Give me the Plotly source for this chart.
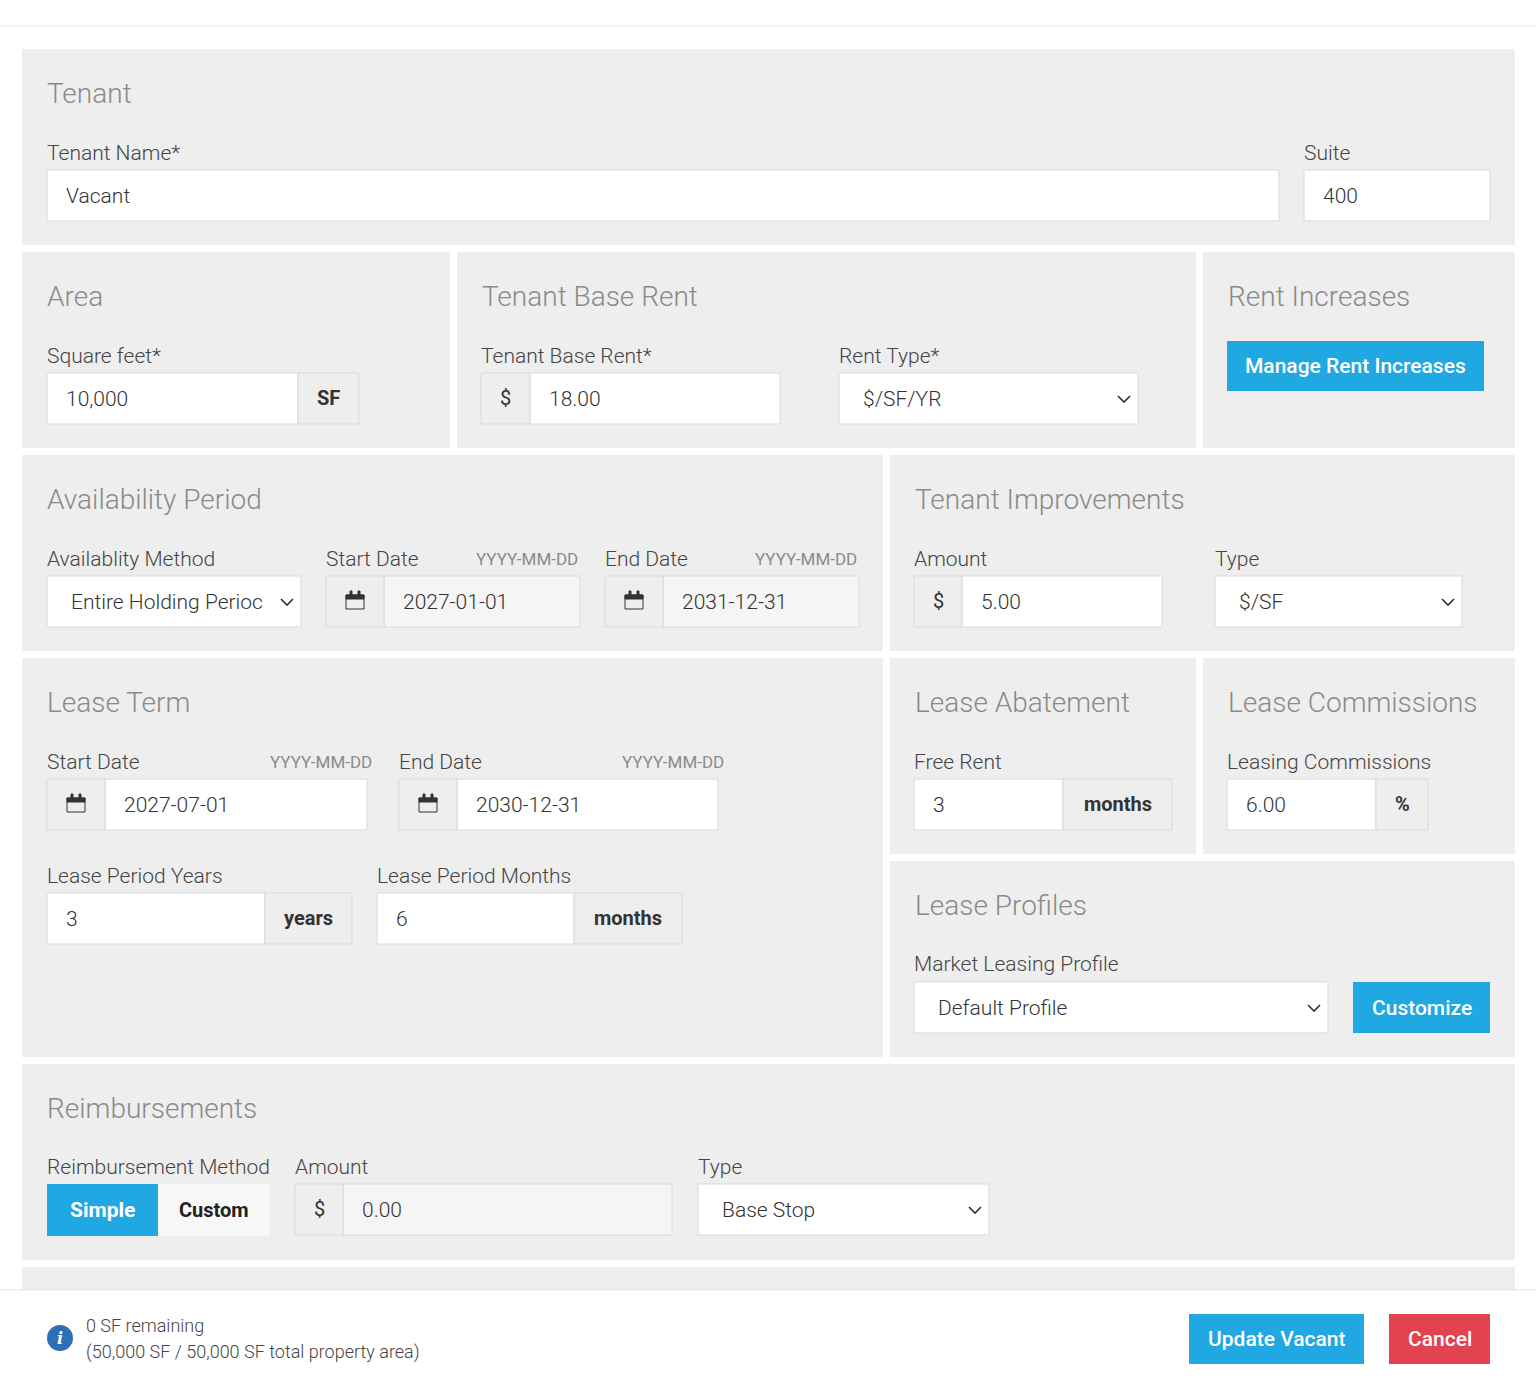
import plotly.graph_objects as go

W, H = 1536, 1384
PANEL = "#eeeeee"
BLUE = "#1fa8e1"
RED = "#e3434f"
FONT = "Roboto"

# panels: (x0, y0, x1, y1, title)
panels = [
    (22, 49, 1515, 245, "Tenant"),
    (22, 252, 450, 448, "Area"),
    (457, 252, 1196, 448, "Tenant Base Rent"),
    (1203, 252, 1515, 448, "Rent Increases"),
    (22, 455, 883, 651, "Availability Period"),
    (890, 455, 1515, 651, "Tenant Improvements"),
    (22, 658, 883, 1057, "Lease Term"),
    (890, 658, 1196, 854, "Lease Abatement"),
    (1203, 658, 1515, 854, "Lease Commissions"),
    (890, 861, 1515, 1057, "Lease Profiles"),
    (22, 1064, 1515, 1260, "Reimbursements"),
    (22, 1267, 1515, 1300, ""),
]

# field labels: (x, y, text)
labels = [
    (47, 153, "Tenant Name*"), (1304, 153, "Suite"),
    (47, 356, "Square feet*"), (481, 356, "Tenant Base Rent*"), (839, 356, "Rent Type*"),
    (47, 559, "Availablity Method"), (326, 559, "Start Date"), (605, 559, "End Date"),
    (914, 559, "Amount"), (1215, 559, "Type"),
    (47, 762, "Start Date"), (399, 762, "End Date"),
    (914, 762, "Free Rent"), (1227, 762, "Leasing Commissions"),
    (47, 876, "Lease Period Years"), (377, 876, "Lease Period Months"),
    (914, 964, "Market Leasing Profile"),
    (47, 1167, "Reimbursement Method"), (295, 1167, "Amount"), (698, 1167, "Type"),
]

# format hints: (right x, y)
hints = [(580, 559), (859, 559), (374, 762), (726, 762)]

# inputs: (x0, y0, x1, text, background)
inputs = [
    (47, 170, 1279, "Vacant", "white"), (1304, 170, 1490, "400", "white"),
    (47, 373, 298, "10,000", "white"), (530, 373, 780, "18.00", "white"),
    (384, 576, 580, "2027-01-01", "#f5f5f5"), (663, 576, 859, "2031-12-31", "#f5f5f5"),
    (962, 576, 1162, "5.00", "white"),
    (105, 779, 367, "2027-07-01", "white"), (457, 779, 718, "2030-12-31", "white"),
    (914, 779, 1063, "3", "white"), (1227, 779, 1376, "6.00", "white"),
    (47, 893, 265, "3", "white"), (377, 893, 574, "6", "white"),
    (343, 1184, 672, "0.00", "#f5f5f5"),
]

# addons: (x0, y0, x1, text) ; "cal" = calendar icon
addons = [
    (298, 373, 359, "SF"), (481, 373, 530, "$"),
    (326, 576, 384, "cal"), (605, 576, 663, "cal"), (914, 576, 962, "$"),
    (47, 779, 105, "cal"), (399, 779, 457, "cal"),
    (1063, 779, 1172, "months"), (1376, 779, 1428, "%"),
    (265, 893, 352, "years"), (574, 893, 682, "months"),
    (295, 1184, 343, "$"),
]

# selects: (x0, y0, x1, text)
selects = [
    (839, 373, 1138, "$/SF/YR"), (47, 576, 301, "Entire Holding Perioc"),
    (1215, 576, 1462, "$/SF"), (914, 982, 1328, "Default Profile"),
    (698, 1184, 989, "Base Stop"),
]

# buttons: (x0, y0, x1, y1, text, colour)
buttons = [
    (1227, 341, 1484, 391, "Manage Rent Increases", BLUE),
    (1353, 982, 1490, 1033, "Customize", BLUE),
    (47, 1184, 158, 1236, "<b>Simple</b>", BLUE),
    (1189, 1314, 1364, 1364, "Update Vacant", BLUE),
    (1389, 1314, 1490, 1364, "Cancel", RED),
]

footer_lines = ["0 SF remaining", "(50,000 SF / 50,000 SF total property area)"]

fig = go.Figure()
shapes, ann = [], []


def rect(x0, y0, x1, y1, fill, line=None):
    shapes.append(dict(type="rect", x0=x0, y0=y0, x1=x1, y1=y1, fillcolor=fill,
                       line=dict(color=line or fill, width=1 if line else 0), layer="above"))


def text(x, y, t, size=20, color="#333", anchor="left", family=FONT, weight=400):
    # annotations get a 1px border pad; nudge left-anchored text back
    if anchor == "left":
        x -= 2
    ann.append(dict(x=x, y=y, text=t, showarrow=False, xanchor=anchor, yanchor="middle",
                    font=dict(size=size, color=color, family=family, weight=weight)))


shapes.append(dict(type="line", x0=0, x1=W, y0=26, y1=26, line=dict(color="#e6e6e6", width=1)))
for x0, y0, x1, y1, t in panels:
    rect(x0, y0, x1, y1, PANEL)
    if t:
        text(x0 + 25, y0 + 44, t, size=28, color="#8a8a8a", weight=300)
for x, y, t in labels:
    text(x, y, t, size=21, color="#444", weight=300)
for x, y in hints:
    text(x, y, "YYYY-MM-DD", size=17, color="#8a8a8a", anchor="right")
for x0, y0, x1, t, bg in inputs:
    rect(x0, y0, x1, y0 + 51, bg, "#d9d9d9")
    text(x0 + 19, y0 + 26, t, size=21, weight=300)
for x0, y0, x1, t in addons:
    rect(x0, y0, x1, y0 + 51, "#eeeeee", "#d9d9d9")
    cx, cy = (x0 + x1) / 2, y0 + 25
    if t == "cal":
        rect(cx - 9, cy - 6, cx + 9, cy + 8, "rgba(0,0,0,0)", "#333")
        rect(cx - 9, cy - 6, cx + 9, cy - 2, "#333", "#333")
        rect(cx - 5, cy - 10, cx - 3, cy - 5, "#333", "#333")
        rect(cx + 3, cy - 10, cx + 5, cy - 5, "#333", "#333")
    else:
        text(cx, cy, "<b>%s</b>" % t if t != "$" else t, size=20, color="#333", anchor="center")
for x0, y0, x1, t in selects:
    rect(x0, y0, x1, y0 + 51, "white", "#d9d9d9")
    text(x0 + 24, y0 + 26, t, size=21, weight=300)
    cx, cy = x1 - 14, y0 + 26
    shapes.append(dict(type="path", path="M%f,%f L%f,%f L%f,%f" % (cx - 6, cy - 3, cx, cy + 3, cx + 6, cy - 3),
                       line=dict(color="#333", width=1.6), layer="above"))
rect(158, 1184, 270, 1236, "#f7f7f7")
text(214, 1210, "<b>Custom</b>", size=20, color="#222", anchor="center")

# footer
rect(0, 1290, W, H, "white")
shapes.append(dict(type="line", x0=0, x1=W, y0=1290, y1=1290, line=dict(color="#e3e3e3", width=1)))
shapes.append(dict(type="circle", x0=47, y0=1325, x1=73, y1=1351, fillcolor="#2d6fb7",
                   line=dict(width=0), layer="above"))
text(60, 1338, "<b><i>i</i></b>", size=16, color="white", anchor="center", family="DejaVu Serif")
for i, t in enumerate(footer_lines):
    text(86, 1325 + 27 * i, t, size=18, color="#444", weight=300)

for x0, y0, x1, y1, t, c in buttons:
    rect(x0, y0, x1, y1, c)
    text((x0 + x1) / 2, (y0 + y1) / 2, t, size=21, color="white", anchor="center", weight=500)

fig.update_layout(
    width=W, height=H, margin=dict(l=0, r=0, t=0, b=0),
    plot_bgcolor="white", paper_bgcolor="white",
    xaxis=dict(range=[0, W], visible=False, fixedrange=True),
    yaxis=dict(range=[H, 0], visible=False, fixedrange=True),
    shapes=shapes, annotations=ann, showlegend=False,
)
fig.write_html("out.html", config={"displayModeBar": False},
               post_script="document.body.style.margin='0';document.body.style.overflow='hidden';")
